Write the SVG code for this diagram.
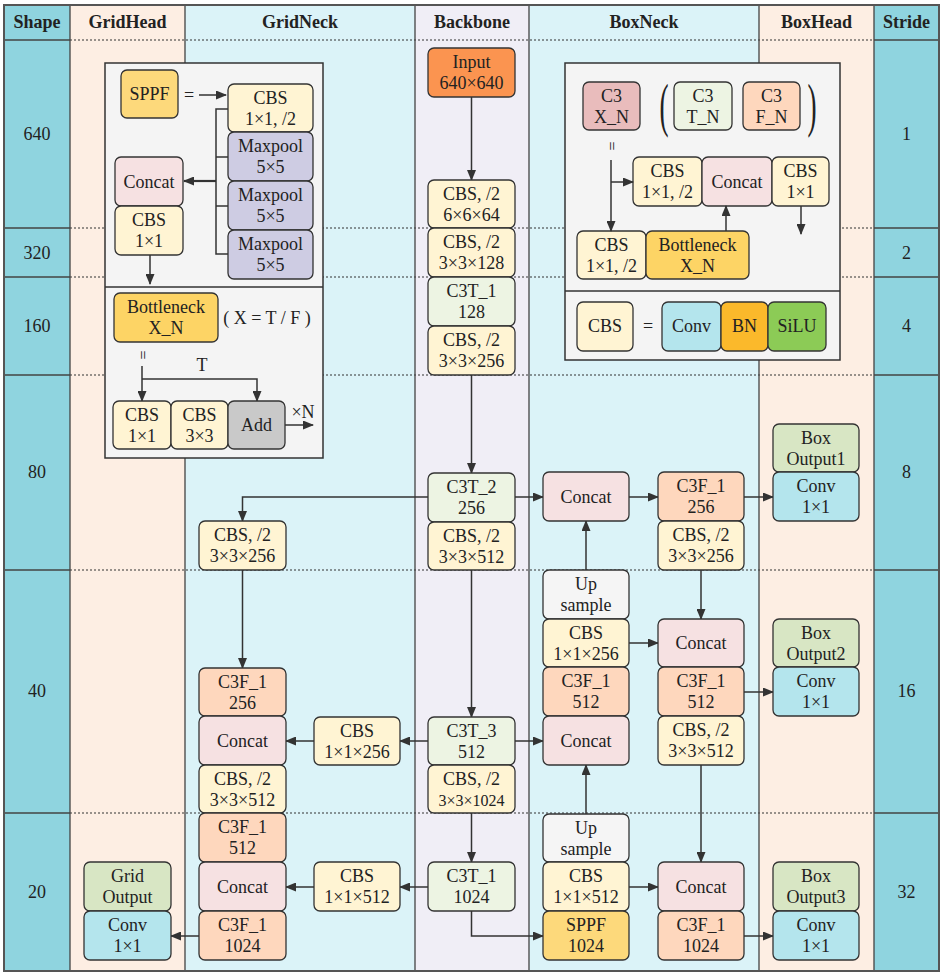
<svg xmlns="http://www.w3.org/2000/svg" width="944" height="975" viewBox="0 0 944 975">
<defs>
<style>
.n{stroke:#333;stroke-width:1.3}
.cbs{fill:#fff4d3}.cat{fill:#f6e1e2}.c3t{fill:#edf4e3}.c3f{fill:#fed7bd}.up{fill:#f5f5f5}.sppf{fill:#fdd97b}.inp{fill:#fb9450}.out{fill:#d8e6c4}.conv{fill:#b4e5ed}.mp{fill:#cecce3}.bott{fill:#fdd465}.add{fill:#c9c9c9}.c3x{fill:#e9bcbc}.bn{fill:#fbb92b}.silu{fill:#8ccb56}
text{font-family:"Liberation Serif","Times New Roman",serif;font-size:18px;fill:#222;text-anchor:middle}
.h{font-weight:bold;font-size:18px}
.s16{font-size:16px}
.c{stroke:#333;stroke-width:1.5;fill:none;marker-end:url(#ah)}
.dot{stroke:#333;stroke-width:1.2;stroke-dasharray:2 2;fill:none}
.sol{stroke:#444;stroke-width:1.3;fill:none}
.pan{fill:#f4f4f4;stroke:#333;stroke-width:1.5}
</style>
<marker id="ah" markerUnits="userSpaceOnUse" markerWidth="11" markerHeight="9" refX="10" refY="4.5" orient="auto"><path d="M0,0 L11,4.5 L0,9 z" fill="#333"/></marker>
</defs>
<!-- columns -->
<g id="columns">
<rect x="4" y="5" width="66" height="966" fill="#8fd4df"/>
<rect x="70" y="5" width="115" height="966" fill="#fdeee3"/>
<rect x="185" y="5" width="230" height="966" fill="#dbf3f8"/>
<rect x="415" y="5" width="114" height="966" fill="#f0eef6"/>
<rect x="529" y="5" width="230" height="966" fill="#dbf3f8"/>
<rect x="759" y="5" width="115" height="966" fill="#fdeee3"/>
<rect x="874" y="5" width="65" height="966" fill="#8fd4df"/>
<path class="dot" d="M70 40H874M70 228H874M70 277H874M70 375H874M70 570H874M70 813H874"/>
<path class="sol" d="M4 40H70M4 228H70M4 277H70M4 375H70M4 570H70M4 813H70M874 40H939M874 228H939M874 277H939M874 375H939M874 570H939M874 813H939"/>
<path class="sol" d="M70 5V971M185 5V971M415 5V971M529 5V971M759 5V971M874 5V971"/>
<rect x="4" y="5" width="935" height="966" fill="none" stroke="#555" stroke-width="2"/>
<text class="h" x="37" y="28">Shape</text>
<text class="h" x="127.5" y="28">GridHead</text>
<text class="h" x="300" y="28">GridNeck</text>
<text class="h" x="472" y="28">Backbone</text>
<text class="h" x="644" y="28">BoxNeck</text>
<text class="h" x="816.5" y="28">BoxHead</text>
<text class="h" x="906.5" y="28">Stride</text>
<text x="37" y="140">640</text><text x="37" y="259">320</text><text x="37" y="332">160</text><text x="37" y="478">80</text><text x="37" y="697">40</text><text x="37" y="898">20</text>
<text x="906.5" y="140">1</text><text x="906.5" y="259">2</text><text x="906.5" y="332">4</text><text x="906.5" y="478">8</text><text x="906.5" y="697">16</text><text x="906.5" y="898">32</text>
</g>
<!-- left legend panel -->
<g id="legend-left">
<rect class="pan" x="105" y="63" width="218" height="395"/>
<line x1="105" y1="287" x2="323" y2="287" stroke="#333" stroke-width="1.5"/>
<rect class="n sppf" x="121" y="70" width="57" height="48" rx="6"/><text x="149.5" y="100">SPPF</text>
<text x="189" y="101" fill="#666">=</text>
<rect class="n cbs" x="228" y="84" width="85" height="48" rx="6"/><text x="270.5" y="104">CBS</text><text x="270.5" y="125">1×1, /2</text>
<rect class="n mp" x="228" y="132" width="85" height="49" rx="6"/><text x="270.5" y="152">Maxpool</text><text x="270.5" y="173">5×5</text>
<rect class="n mp" x="228" y="181" width="85" height="49" rx="6"/><text x="270.5" y="201">Maxpool</text><text x="270.5" y="222">5×5</text>
<rect class="n mp" x="228" y="230" width="85" height="49" rx="6"/><text x="270.5" y="250">Maxpool</text><text x="270.5" y="271">5×5</text>
<rect class="n cat" x="115" y="157" width="68" height="49" rx="6"/><text x="149" y="188">Concat</text>
<rect class="n cbs" x="115" y="206" width="68" height="49" rx="6"/><text x="149" y="226">CBS</text><text x="149" y="247">1×1</text>
<path d="M199 95H226" stroke="#333" stroke-width="1.5" fill="none" marker-end="url(#ah)"/>
<path d="M228 109H216V254H228M216 157H228M216 206H228" stroke="#333" stroke-width="1.5" fill="none"/>
<path d="M216 181H184" stroke="#333" stroke-width="2.2" fill="none" marker-end="url(#ah)"/>
<path class="c" d="M150 255V284"/>
<rect class="n bott" x="114" y="293" width="104" height="49" rx="6"/><text x="166" y="313">Bottleneck</text><text x="166" y="334">X_N</text>
<text x="267" y="324">( X = T / F )</text>
<text x="142" y="355" class="s16" fill="#666" transform="rotate(90 142 355)" dy="5">=</text>
<path class="c" d="M142 366V401"/>
<path class="c" d="M142 379H257V401"/>
<text x="202" y="371">T</text>
<rect class="n cbs" x="113" y="401" width="58" height="48" rx="6"/><text x="142" y="421">CBS</text><text x="142" y="442">1×1</text>
<rect class="n cbs" x="171" y="401" width="57" height="48" rx="6"/><text x="199.5" y="421">CBS</text><text x="199.5" y="442">3×3</text>
<rect class="n add" x="228" y="401" width="57" height="48" rx="6"/><text x="256.5" y="431">Add</text>
<path class="c" d="M285 425H313"/>
<text x="303" y="418">×N</text>
</g>
<!-- right legend panel -->
<g id="legend-right">
<rect class="pan" x="565" y="63" width="275" height="297"/>
<line x1="565" y1="291" x2="840" y2="291" stroke="#333" stroke-width="1.5"/>
<rect class="n c3x" x="583" y="82" width="57" height="48" rx="6"/><text x="611.5" y="102">C3</text><text x="611.5" y="123">X_N</text>
<text transform="translate(664 125) scale(0.8 1.75)" x="0" y="0" style="font-size:34px" fill="#444">(</text>
<rect class="n c3t" x="674" y="82" width="58" height="48" rx="6"/><text x="703" y="102">C3</text><text x="703" y="123">T_N</text>
<rect class="n c3f" x="743" y="82" width="57" height="48" rx="6"/><text x="771.5" y="102">C3</text><text x="771.5" y="123">F_N</text>
<text transform="translate(812 125) scale(0.8 1.75)" x="0" y="0" style="font-size:34px" fill="#444">)</text>
<text x="611" y="146" class="s16" fill="#666" transform="rotate(90 611 146)" dy="5">=</text>
<rect class="n cbs" x="633" y="157" width="69" height="49" rx="6"/><text x="667.5" y="177">CBS</text><text x="667.5" y="198">1×1, /2</text>
<rect class="n cat" x="702" y="157" width="70" height="49" rx="6"/><text x="737" y="188">Concat</text>
<rect class="n cbs" x="772" y="157" width="57" height="49" rx="6"/><text x="800.5" y="177">CBS</text><text x="800.5" y="198">1×1</text>
<rect class="n cbs" x="577" y="231" width="69" height="48" rx="6"/><text x="611.5" y="251">CBS</text><text x="611.5" y="272">1×1, /2</text>
<rect class="n bott" x="646" y="231" width="103" height="48" rx="6"/><text x="697.5" y="251">Bottleneck</text><text x="697.5" y="272">X_N</text>
<path class="c" d="M611 160V231"/>
<path class="c" d="M611 182H633"/>
<path class="c" d="M726 231V206"/>
<path class="c" d="M801 206V234"/>
<rect class="n cbs" x="577" y="302" width="56" height="49" rx="6"/><text x="605" y="332">CBS</text>
<text x="648" y="332" fill="#666">=</text>
<rect class="n conv" x="662" y="302" width="59" height="49" rx="6"/><text x="691.5" y="332">Conv</text>
<rect class="n bn" x="721" y="302" width="47" height="49" rx="6"/><text x="744.5" y="332">BN</text>
<rect class="n silu" x="768" y="302" width="58" height="49" rx="6"/><text x="797" y="332">SiLU</text>
</g>
<!-- connectors -->
<g id="connectors">
<path class="c" d="M471.5 97V180"/>
<path class="c" d="M471.5 375V473"/>
<path class="c" d="M515 497H543"/>
<path class="c" d="M428 497H242.5V521"/>
<path class="c" d="M629 497H658"/>
<path class="c" d="M744 497H773"/>
<path class="c" d="M586 570V521"/>
<path class="c" d="M701 570V619"/>
<path class="c" d="M471.5 570V717"/>
<path class="c" d="M242.5 570V668"/>
<path class="c" d="M629 643H658"/>
<path class="c" d="M744 692H773"/>
<path class="c" d="M515 741H543"/>
<path class="c" d="M428 741H400"/>
<path class="c" d="M314 741H286"/>
<path class="c" d="M586 814V765"/>
<path class="c" d="M701 765V862"/>
<path class="c" d="M471.5 813V862"/>
<path class="c" d="M428 887H400"/>
<path class="c" d="M314 887H286"/>
<path class="c" d="M471.5 911V936H543"/>
<path class="c" d="M629 887H658"/>
<path class="c" d="M744 936H773"/>
<path class="c" d="M199 936H171"/>
</g>
<!-- backbone -->
<g id="input"><rect class="n inp" x="428" y="48" width="87" height="49" rx="6"/><text x="471.5" y="68">Input</text><text x="471.5" y="89">640×640</text></g>
<g id="bb1"><rect class="n cbs" x="428" y="180" width="87" height="48" rx="6"/><text x="471.5" y="200">CBS, /2</text><text x="471.5" y="221">6×6×64</text></g>
<g id="bb2"><rect class="n cbs" x="428" y="228" width="87" height="49" rx="6"/><text x="471.5" y="248">CBS, /2</text><text x="471.5" y="269">3×3×128</text></g>
<g id="bb3"><rect class="n c3t" x="428" y="277" width="87" height="49" rx="6"/><text x="471.5" y="297">C3T_1</text><text x="471.5" y="318">128</text></g>
<g id="bb4"><rect class="n cbs" x="428" y="326" width="87" height="49" rx="6"/><text x="471.5" y="346">CBS, /2</text><text x="471.5" y="367">3×3×256</text></g>
<g id="bb5"><rect class="n c3t" x="428" y="473" width="87" height="49" rx="6"/><text x="471.5" y="493">C3T_2</text><text x="471.5" y="514">256</text></g>
<g id="bb6"><rect class="n cbs" x="428" y="522" width="87" height="48" rx="6"/><text x="471.5" y="542">CBS, /2</text><text x="471.5" y="563">3×3×512</text></g>
<g id="bb7"><rect class="n c3t" x="428" y="717" width="87" height="48" rx="6"/><text x="471.5" y="737">C3T_3</text><text x="471.5" y="758">512</text></g>
<g id="bb8"><rect class="n cbs" x="428" y="765" width="87" height="48" rx="6"/><text x="471.5" y="785">CBS, /2</text><text x="471.5" y="806" class="s16">3×3×1024</text></g>
<g id="bb9"><rect class="n c3t" x="428" y="862" width="87" height="49" rx="6"/><text x="471.5" y="882">C3T_1</text><text x="471.5" y="903">1024</text></g>
<!-- grid neck -->
<g id="gn1"><rect class="n cbs" x="199" y="521" width="87" height="49" rx="6"/><text x="242.5" y="541">CBS, /2</text><text x="242.5" y="562">3×3×256</text></g>
<g id="gn2"><rect class="n c3f" x="199" y="668" width="87" height="48" rx="6"/><text x="242.5" y="688">C3F_1</text><text x="242.5" y="709">256</text></g>
<g id="gn3"><rect class="n cat" x="199" y="716" width="87" height="49" rx="6"/><text x="242.5" y="747">Concat</text></g>
<g id="gn4"><rect class="n cbs" x="199" y="765" width="87" height="48" rx="6"/><text x="242.5" y="785">CBS, /2</text><text x="242.5" y="806">3×3×512</text></g>
<g id="gn5"><rect class="n c3f" x="199" y="813" width="87" height="49" rx="6"/><text x="242.5" y="833">C3F_1</text><text x="242.5" y="854">512</text></g>
<g id="gn6"><rect class="n cat" x="199" y="862" width="87" height="49" rx="6"/><text x="242.5" y="893">Concat</text></g>
<g id="gn7"><rect class="n c3f" x="199" y="911" width="87" height="49" rx="6"/><text x="242.5" y="931">C3F_1</text><text x="242.5" y="952">1024</text></g>
<g id="gn8"><rect class="n cbs" x="314" y="717" width="86" height="48" rx="6"/><text x="357" y="737">CBS</text><text x="357" y="758">1×1×256</text></g>
<g id="gn9"><rect class="n cbs" x="314" y="862" width="86" height="49" rx="6"/><text x="357" y="882">CBS</text><text x="357" y="903">1×1×512</text></g>
<!-- grid head -->
<g id="gh1"><rect class="n out" x="84" y="862" width="87" height="49" rx="6"/><text x="127.5" y="882">Grid</text><text x="127.5" y="903">Output</text></g>
<g id="gh2"><rect class="n conv" x="84" y="911" width="87" height="49" rx="6"/><text x="127.5" y="931">Conv</text><text x="127.5" y="952">1×1</text></g>
<!-- box neck -->
<g id="bn1"><rect class="n cat" x="543" y="472" width="86" height="49" rx="6"/><text x="586" y="503">Concat</text></g>
<g id="bn2"><rect class="n up" x="543" y="570" width="86" height="49" rx="6"/><text x="586" y="590">Up</text><text x="586" y="611">sample</text></g>
<g id="bn3"><rect class="n cbs" x="543" y="619" width="86" height="48" rx="6"/><text x="586" y="639">CBS</text><text x="586" y="660">1×1×256</text></g>
<g id="bn4"><rect class="n c3f" x="543" y="667" width="86" height="49" rx="6"/><text x="586" y="687">C3F_1</text><text x="586" y="708">512</text></g>
<g id="bn5"><rect class="n cat" x="543" y="716" width="86" height="49" rx="6"/><text x="586" y="747">Concat</text></g>
<g id="bn6"><rect class="n up" x="543" y="814" width="86" height="48" rx="6"/><text x="586" y="834">Up</text><text x="586" y="855">sample</text></g>
<g id="bn7"><rect class="n cbs" x="543" y="862" width="86" height="49" rx="6"/><text x="586" y="882">CBS</text><text x="586" y="903">1×1×512</text></g>
<g id="bn8"><rect class="n sppf" x="543" y="911" width="86" height="49" rx="6"/><text x="586" y="931">SPPF</text><text x="586" y="952">1024</text></g>
<g id="bn9"><rect class="n c3f" x="658" y="472" width="86" height="49" rx="6"/><text x="701" y="492">C3F_1</text><text x="701" y="513">256</text></g>
<g id="bn10"><rect class="n cbs" x="658" y="521" width="86" height="49" rx="6"/><text x="701" y="541">CBS, /2</text><text x="701" y="562">3×3×256</text></g>
<g id="bn11"><rect class="n cat" x="658" y="619" width="86" height="48" rx="6"/><text x="701" y="649">Concat</text></g>
<g id="bn12"><rect class="n c3f" x="658" y="667" width="86" height="49" rx="6"/><text x="701" y="687">C3F_1</text><text x="701" y="708">512</text></g>
<g id="bn13"><rect class="n cbs" x="658" y="716" width="86" height="49" rx="6"/><text x="701" y="736">CBS, /2</text><text x="701" y="757">3×3×512</text></g>
<g id="bn14"><rect class="n cat" x="658" y="862" width="86" height="49" rx="6"/><text x="701" y="893">Concat</text></g>
<g id="bn15"><rect class="n c3f" x="658" y="911" width="86" height="49" rx="6"/><text x="701" y="931">C3F_1</text><text x="701" y="952">1024</text></g>
<!-- box head -->
<g id="bh1"><rect class="n out" x="773" y="424" width="86" height="48" rx="6"/><text x="816" y="444">Box</text><text x="816" y="465">Output1</text></g>
<g id="bh2"><rect class="n conv" x="773" y="472" width="86" height="49" rx="6"/><text x="816" y="492">Conv</text><text x="816" y="513">1×1</text></g>
<g id="bh3"><rect class="n out" x="773" y="619" width="86" height="48" rx="6"/><text x="816" y="639">Box</text><text x="816" y="660">Output2</text></g>
<g id="bh4"><rect class="n conv" x="773" y="667" width="86" height="49" rx="6"/><text x="816" y="687">Conv</text><text x="816" y="708">1×1</text></g>
<g id="bh5"><rect class="n out" x="773" y="862" width="86" height="49" rx="6"/><text x="816" y="882">Box</text><text x="816" y="903">Output3</text></g>
<g id="bh6"><rect class="n conv" x="773" y="911" width="86" height="49" rx="6"/><text x="816" y="931">Conv</text><text x="816" y="952">1×1</text></g>
</svg>
